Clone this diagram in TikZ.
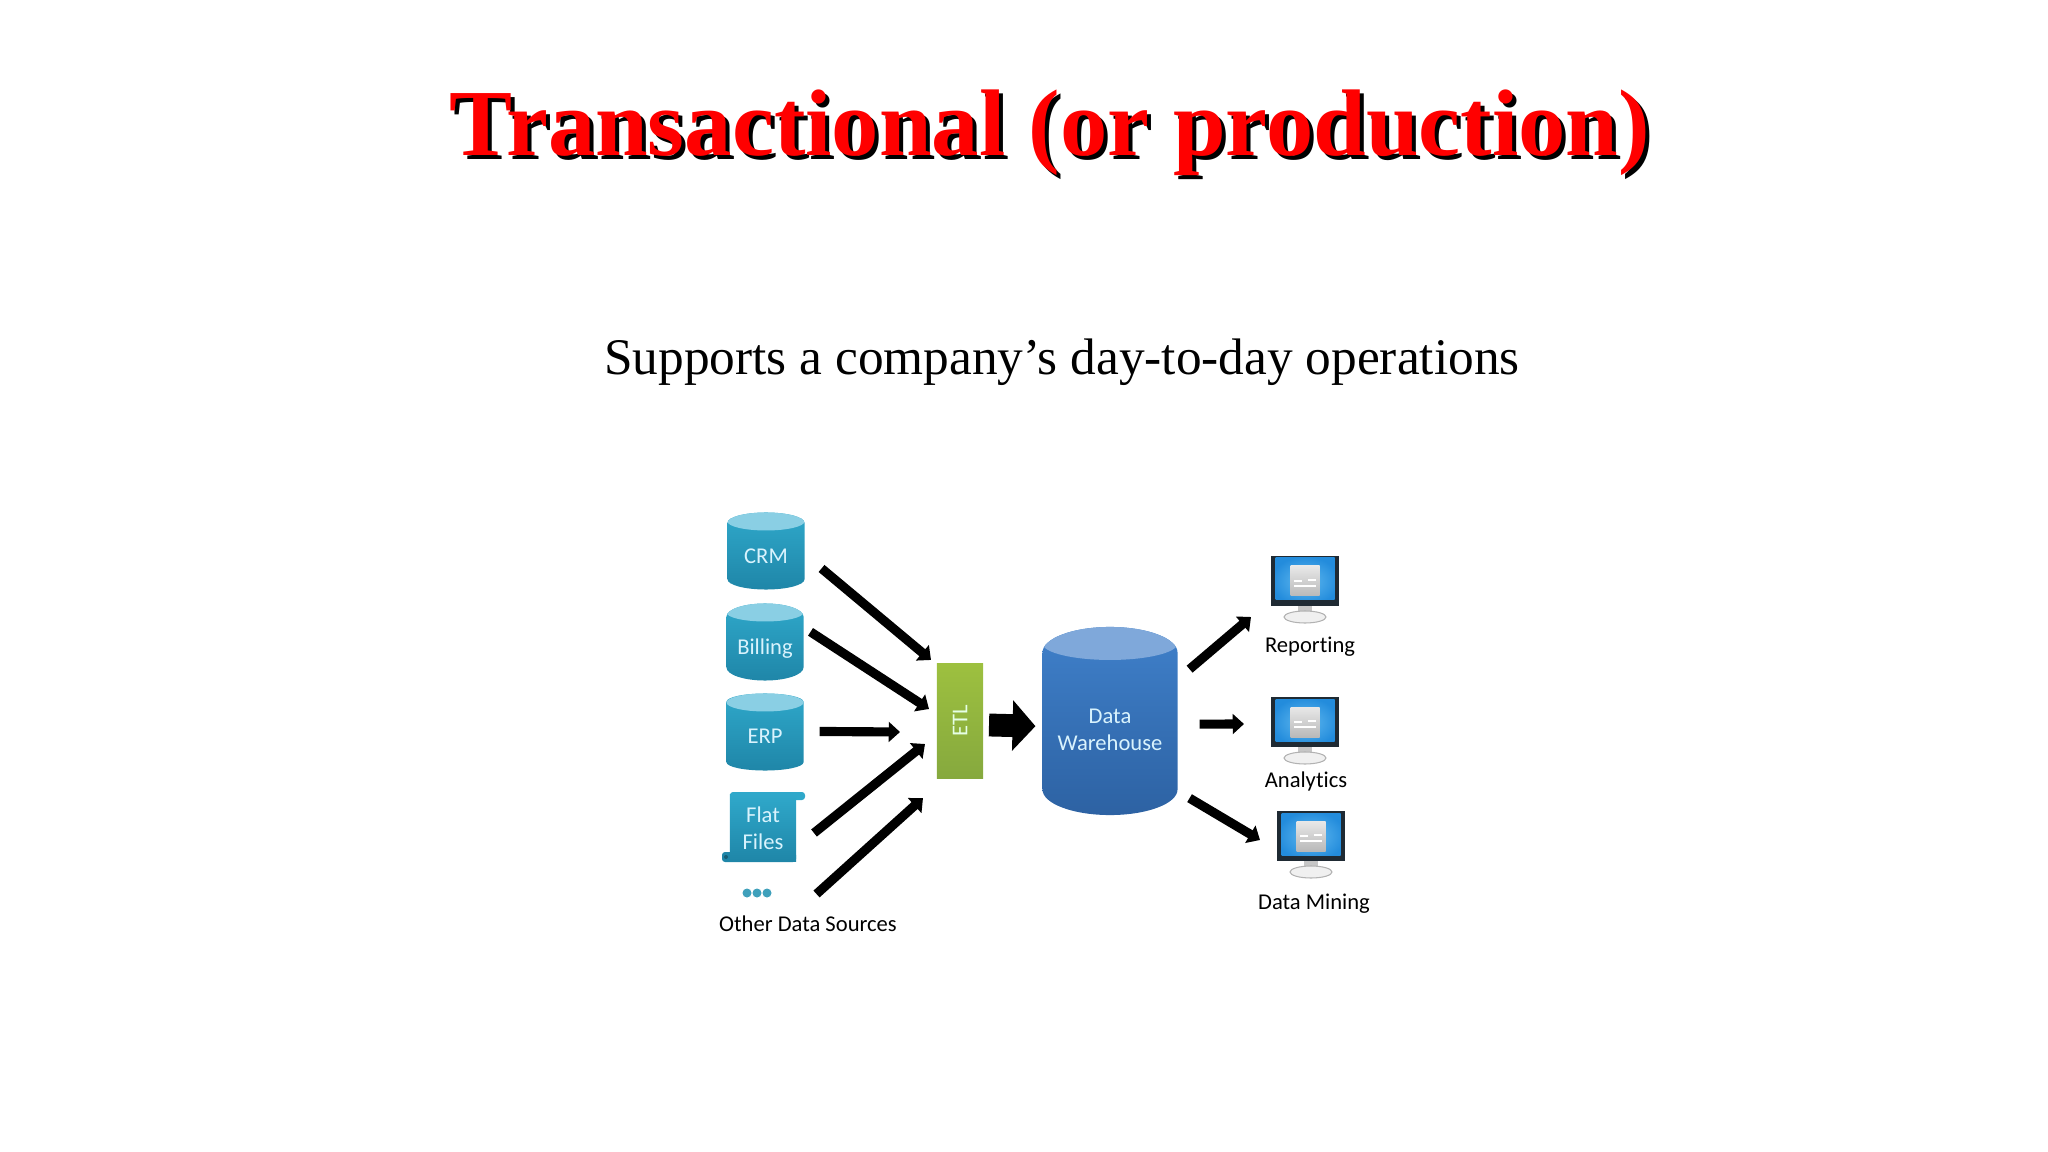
\documentclass[tikz,border=0pt]{standalone}
\usepackage{fontspec}
\setmainfont{Liberation Serif}
\newfontfamily\labelfamily[Ligatures=NoCommon]{Carlito}
\usetikzlibrary{arrows.meta,shapes.geometric}
\definecolor{tealtop}{HTML}{8ACFE4}
\definecolor{tealhi}{HTML}{2FA8CA}
\definecolor{teallo}{HTML}{1F86A8}
\definecolor{bluetop}{HTML}{7FA8DA}
\definecolor{bluehi}{HTML}{3F80CA}
\definecolor{bluelo}{HTML}{2D62A3}
\definecolor{screenin}{HTML}{62BAF0}
\definecolor{screenout}{HTML}{238CDC}
\definecolor{screenedge}{HTML}{1F2A33}
\definecolor{etlhi}{HTML}{9DC03F}
\definecolor{etllo}{HTML}{86A93E}
\newcommand{\monitor}[3]{
  \begin{scope}[shift={(#2,#3)}]
    \fill[gray!45] (-7,24) rectangle (7,31);
    \draw[gray!60,fill=gray!12,line width=0.3pt] (0,36) ellipse [x radius=0.21cm,y radius=0.06cm];
    \node (#1) [screenframe] at (0,0) {};
    \shade[top color=gray!18,bottom color=gray!55] (-14.5,-15) rectangle (14.5,15);
    \draw[white,line width=0.4pt] (-11,0) -- (-3,0) (-11,5) -- (11,5) (3,-1) -- (11,-1);
  \end{scope}
}
\begin{document}
\begin{tikzpicture}[x=0.01cm,y=-0.01cm,
      every node/.append style={inner sep=0pt,outer sep=0pt},
      flow/.style={-{Triangle[length=3.2pt,width=5.6pt]},line width=2.6pt,color=black}]
    \tikzstyle{word} = [font=\labelfamily\fontsize{6.42}{7.7}\selectfont,color=black,align=center]
    \tikzstyle{filetext} = [font=\labelfamily\fontsize{6.42}{7.7}\selectfont,align=center]
    \tikzstyle{source} = [cylinder,shape border rotate=90,aspect=0.47,anchor=shape center,
      minimum width=0.77cm,minimum height=0.77cm,shade,top color=tealhi,bottom color=teallo,
      text=cyan!15,font=\labelfamily\fontsize{6.42}{7.7}\selectfont,
      path picture={\fill[tealtop] ([yshift=-0.09cm]path picture bounding box.north) ellipse [x radius=0.385cm,y radius=0.09cm];}]
    \tikzstyle{warehouse} = [cylinder,shape border rotate=90,aspect=0.49,anchor=shape center,
      minimum width=1.35cm,minimum height=1.88cm,shade,top color=bluehi,bottom color=bluelo,
      text=cyan!15,align=center,text depth=0.08cm,font=\labelfamily\fontsize{6.42}{7.7}\selectfont,
      path picture={\fill[bluetop] ([yshift=-0.165cm]path picture bounding box.north) ellipse [x radius=0.675cm,y radius=0.165cm];}]
    \tikzstyle{screenframe} = [rectangle,minimum width=0.68cm,minimum height=0.49cm,fill=screenedge,
      path picture={\shade[inner color=screenin,outer color=screenout] (-29.5,-23) rectangle (29.5,19);}]
    \useasboundingbox (0,0) rectangle (2048,1152);
    % heading
    \node (titleshadow) [anchor=base,color=black,font=\bfseries\fontsize{26.9}{30}\selectfont] at (1054,160) {Transactional (or production)};
    \node (title) [anchor=base,color=red,font=\bfseries\fontsize{26.9}{30}\selectfont] at (1050,156) {Transactional (or production)};
    \node (subtitle) [anchor=base,font=\fontsize{14.6}{16}\selectfont] at (1062,375) {Supports a company’s day-to-day operations};
    % sources
    \node (crm) [source] at (766,551) {CRM};
    \node (billing) [source] at (765,642) {Billing};
    \node (erp) [source] at (765,732) {ERP};
    \fill[tealhi,rounded corners=0.03cm] (730,792) rectangle (805,800);
    \fill[teallo,rounded corners=0.03cm] (722,852) rectangle (796,862);
    \node (flat) [rectangle,minimum width=0.66cm,minimum height=0.66cm,shade,top color=tealhi,bottom color=teallo,
      text=cyan!15,filetext,anchor=center] at (763,828) {Flat\\Files};
    \fill[teallo!70!black] (726,857) circle [radius=2];
    \node (dotsleft) [circle,fill=tealhi!80!gray,minimum size=0.09cm] at (747,893) {};
    \node (dots) [circle,fill=tealhi!80!gray,minimum size=0.09cm] at (757,893) {};
    \node (dotsright) [circle,fill=tealhi!80!gray,minimum size=0.09cm] at (767,893) {};
    \node (other) [word] at (808,924) {Other Data Sources};
    % middle
    \node (etl) [rectangle,minimum width=0.46cm,minimum height=1.14cm,shade,top color=etlhi,bottom color=etllo,
      text=green!10!white] at (960,721) {\rotatebox{90}{\labelfamily\fontsize{6.42}{7.7}\selectfont ETL}};
    \node (dw) [warehouse] at (1110,721) {Data\\Warehouse};
    % outputs
    \monitor{rep}{1305}{581}
    \monitor{ana}{1305}{722}
    \monitor{min}{1311}{836}
    \node (replabel) [word] at (1310,647) {Reporting};
    \node (analabel) [word] at (1306,781) {Analytics};
    \node (minlabel) [word] at (1314,904) {Data Mining};
    \draw[flow] ([shift={(17,12)}]crm.east) -- ([shift={(-6,-4)}]etl.north west);
    \draw[flow] ([shift={(7,-17)}]billing.east) -- ([shift={(-8,-12)}]etl.west);
    \draw[flow] ([shift={(16,-5)}]erp.east) -- ([shift={(-37,11)}]etl.west);
    \draw[flow] ([shift={(18,5)}]flat.east) -- ([shift={(-12,23)}]etl.west);
    \draw[flow] ([shift={(45,1)}]dotsright.east) -- ([shift={(-14,20)}]etl.south west);
    \draw[-{Triangle[length=6.5pt,width=14pt]},line width=6.5pt] ([shift={(6,4)}]etl.east) -- ([shift={(-7,-8)}]dw.west);
    \draw[flow] ([shift={(12,-65)}]dw.east) -- ([shift={(-20,36)}]rep.west);
    \draw[flow] ([shift={(22,-10)}]dw.east) -- ([shift={(-27,2)}]ana.west);
    \draw[flow] ([shift={(12,64)}]dw.east) -- ([shift={(-17,4)}]min.west);
  \end{tikzpicture}
\end{document}
